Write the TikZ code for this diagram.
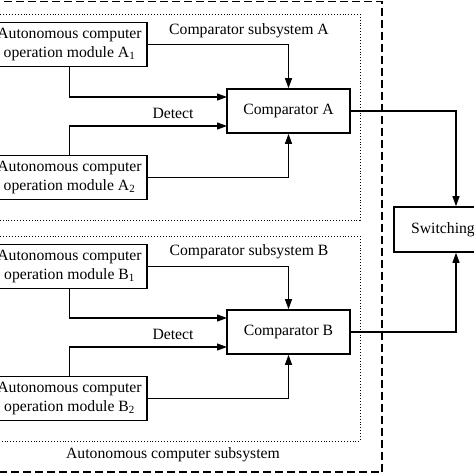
\documentclass[tikz,border=0pt]{standalone}
\usepackage{fontspec}
\setmainfont{Liberation Serif}
\usetikzlibrary{arrows.meta,calc}
\begin{document}
\begin{tikzpicture}[x=1pt,y=-1pt,
  every node/.style={font=\fontsize{15.7}{18.5}\selectfont},
  blk/.style={draw,line width=1.6pt,inner sep=0pt,align=center,minimum height=44pt},
  modbox/.style={blk,minimum width=155pt},
  cmpbox/.style={blk,minimum width=123pt},
  conn/.style={line width=1.1pt},
  arr/.style={conn,-{Triangle[length=10pt,width=7pt]}},
  subsys/.style={draw,dotted,line width=0.9pt},
  outer/.style={draw,line width=1.8pt,dash pattern=on 8pt off 4pt},
  lbl/.style={inner sep=0pt}]
\useasboundingbox (0,0) rectangle (474,474);
\clip (0,0) rectangle (474,474);
% frames
\draw[outer] (-20,1.5) -- (382,1.5) -- (382,472) -- (-20,472);
\draw[subsys] (-20,14) -- (360,14) -- (360,220) -- (-20,220);
\draw[subsys] (-20,236) -- (360,236) -- (360,441) -- (-20,441);
% blocks
\node[modbox] (A1) at (69.5,44.5) {Autonomous computer\\operation module A\textsubscript{1}};
\node[modbox] (A2) at (69.5,177.5) {Autonomous computer\\operation module A\textsubscript{2}};
\node[cmpbox] (CA) at (288.5,111) {Comparator A};
\node[modbox] (B1) at (69.5,266.5) {Autonomous computer\\operation module B\textsubscript{1}};
\node[modbox] (B2) at (69.5,398.5) {Autonomous computer\\operation module B\textsubscript{2}};
\node[cmpbox] (CB) at (288.5,332) {Comparator B};
\node[blk,minimum width=98pt,minimum height=45pt] (SW) at (443,229.5) {Switching};
% labels
\node[lbl] (LA) at (249,31) {Comparator subsystem A};
\node[lbl] (DA) at (173,113) {Detect};
\node[lbl] (LB) at (249,252) {Comparator subsystem B};
\node[lbl] (DB) at (173,334) {Detect};
\node[lbl] (LO) at (173,455) {Autonomous computer subsystem};
% helper coordinates
\coordinate (ca1) at (227,97);
\coordinate (ca2) at (227,126);
\coordinate (cb1) at (227,318);
\coordinate (cb2) at (227,347);
% connectors A
\draw[arr] (A1.east) -| (CA.north);
\draw[arr] (A1.south) |- (ca1);
\draw[arr] (A2.north) |- (ca2);
\draw[arr] (A2.east) -| (CA.south);
\draw[arr] (CA.east) -| (SW.north -| 456,0);
% connectors B
\draw[arr] (B1.east) -| (CB.north);
\draw[arr] (B1.south) |- (cb1);
\draw[arr] (B2.north) |- (cb2);
\draw[arr] (B2.east) -| (CB.south);
\draw[arr] (CB.east) -| (SW.south -| 456,0);
\end{tikzpicture}
\end{document}
